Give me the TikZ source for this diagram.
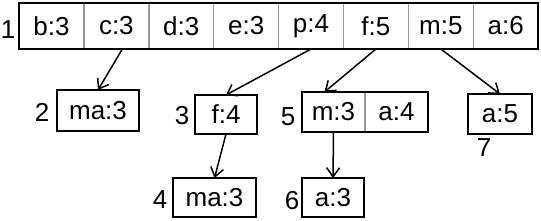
\documentclass[tikz,border=0pt]{standalone}
\usepackage{fontspec}
\setmainfont{Liberation Sans}
\usetikzlibrary{arrows.meta,positioning}

\begin{document}
\begin{tikzpicture}[
  x=1pt, y=-1pt,
  cell/.style={rectangle, draw=gray!80, line width=1.4pt, minimum width=64.9pt,
               minimum height=46pt, inner sep=0pt, outer sep=0pt,
               font=\fontsize{26}{28}\selectfont},
  sub/.style={cell, minimum width=63pt, minimum height=40pt},
  box/.style={rectangle, draw, line width=1.6pt, minimum height=39pt,
              inner sep=0pt, outer sep=0pt, font=\fontsize{26}{28}\selectfont},
  num/.style={inner sep=0pt, font=\fontsize{26}{28}\selectfont},
  frame/.style={draw, line width=1.6pt},
  arr/.style={draw, -{Straight Barb[length=9pt,width=13pt]}, line width=1.5pt}
]
\useasboundingbox (0,0) rectangle (541,221);
% top row
\node[cell, anchor=north west] (b3) at (19,3) {b:3};
\node[cell, right=0pt of b3] (c3) {c:3};
\node[cell, right=0pt of c3] (d3) {d:3};
\node[cell, right=0pt of d3] (e3) {e:3};
\node[cell, right=0pt of e3] (p4) {p:4};
\node[cell, right=0pt of p4] (f5) {f:5};
\node[cell, right=0pt of f5] (m5) {m:5};
\node[cell, right=0pt of m5] (a6) {a:6};
\draw[frame] (b3.north west) rectangle (a6.south east);
% children
\node[box, minimum width=82pt, minimum height=41pt] (ma2) at (98,110.5) {ma:3};
\node[box, minimum width=62pt] (f4)  at (226,114.5) {f:4};
\node[box, minimum width=83pt] (ma4) at (214.5,197.5) {ma:3};
\node[sub, anchor=north west] (m3) at (302,92) {m:3};
\node[sub, right=0pt of m3] (a4) {a:4};
\draw[frame] (m3.north west) rectangle (a4.south east);
\node[box, minimum width=62pt] (a3) at (333,197.5) {a:3};
\node[box, minimum width=64pt, minimum height=40pt] (a5) at (500,114) {a:5};
% numbers
\node[num] (l1) at (8,30)    {1};
\node[num] (l2) at (42,112)  {2};
\node[num] (l3) at (182,116) {3};
\node[num] (l4) at (160,200) {4};
\node[num] (l5) at (288,117) {5};
\node[num] (l6) at (292,201) {6};
\node[num] (l7) at (484,148) {7};
% pointers
\draw[arr] ([xshift=6pt]c3.south) -- (ma2.north);
\draw[arr] (p4.south) -- (f4.north);
\draw[arr] (f5.south) -- ([xshift=-9pt]m3.north);
\draw[arr] (m5.south) -- (a5.north);
\draw[arr] (f4.south) -- (ma4.north);
\draw[arr] (m3.south) -- (a3.north);
\end{tikzpicture}
\end{document}
